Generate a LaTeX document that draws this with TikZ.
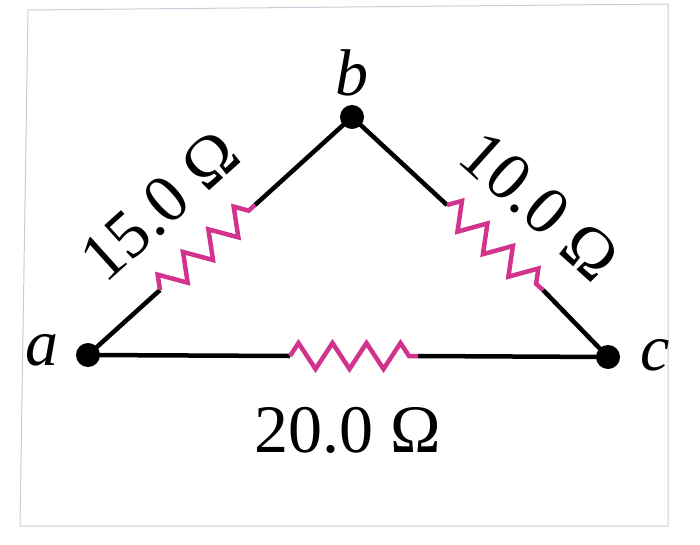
\documentclass[tikz,border=0pt]{standalone}
\usepackage{fontspec}
\setmainfont{Liberation Serif}
\usetikzlibrary{decorations.pathmorphing}
\definecolor{res}{HTML}{D2338C}
\definecolor{frame}{HTML}{C5CCDA}
\begin{document}
\begin{tikzpicture}[x=1pt,y=-1pt,
  wire/.style={line width=4.5pt,black},
  resistor/.style={line width=4.5pt,res,line join=miter,decorate,decoration={zigzag,segment length=34pt,amplitude=13pt}},
  dot/.style={circle,fill=black,inner sep=0pt,minimum size=24pt},
  lbl/.style={font=\fontsize{68}{74}\selectfont}]
\useasboundingbox (0,0) rectangle (700,545);
\draw[frame,line width=1pt] (28,10) -- (668,4) -- (668,526) -- (20,526) -- cycle;
\node[dot] (a) at (88,355) {};
\node[dot] (b) at (352,117) {};
\node[dot] (c) at (608,357) {};
\coordinate (ab1) at (160,290); \coordinate (ab2) at (255,205);
\coordinate (bc1) at (447,205); \coordinate (bc2) at (543,290);
\coordinate (ac1) at (290,356); \coordinate (ac2) at (418,356);
\draw[wire] (a.center) -- (ab1) (ab2) -- (b.center) -- (bc1) (bc2) -- (c.center) -- (ac2) (ac1) -- (a.center);
\draw[resistor] (ab1) -- (ab2);
\draw[resistor] (bc1) -- (bc2);
\draw[resistor] (ac1) -- (ac2);
\node[font=\fontsize{66}{72}\selectfont\itshape] (la) at (42,350) {a};
\node[font=\fontsize{66}{72}\selectfont\itshape] (lb) at (352,73) {b};
\node[font=\fontsize{66}{72}\selectfont\itshape] (lc) at (655,355) {c};
\node[lbl,rotate=42] (l15) at (160,206) {15.0 Ω};
\node[lbl,rotate=-42] (l10) at (540,206) {10.0 Ω};
\node[lbl] (l20) at (348,430) {20.0 Ω};
\end{tikzpicture}
\end{document}
